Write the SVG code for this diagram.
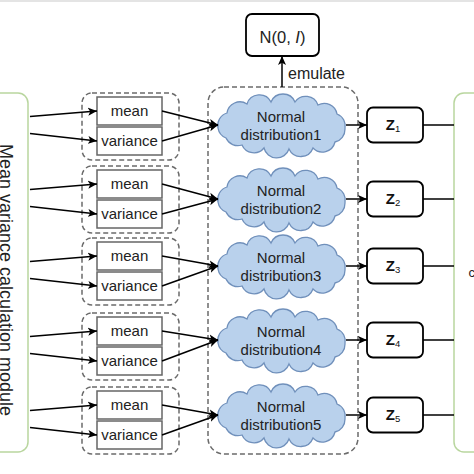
<svg xmlns="http://www.w3.org/2000/svg" width="474" height="474" viewBox="0 0 474 474">
<defs>
<marker id="ah" markerUnits="userSpaceOnUse" markerWidth="10" markerHeight="9" refX="9" refY="4.5" orient="auto">
<path d="M0,0.5 L9,4.5 L0,8.5 L2.2,4.5 Z" fill="#000"/>
</marker>
<path id="cloud" d="M -64 3 A 13 13 0 0 1 -55 -12 A 13 13 0 0 1 -35 -21 A 13 13 0 0 1 -11 -23 A 13 13 0 0 1 13 -23 A 13 13 0 0 1 36 -20 A 13 13 0 0 1 55 -11 A 13 13 0 0 1 63 4 A 13 13 0 0 1 53 17 A 13 13 0 0 1 31 23 A 13 13 0 0 1 7 24 A 13 13 0 0 1 -18 23 A 13 13 0 0 1 -40 20 A 13 13 0 0 1 -56 13 A 13 13 0 0 1 -64 3 Z"/>
</defs>
<style>
.t{font-family:"Liberation Sans",Arial,sans-serif;fill:#222}
.box{fill:#fff;stroke:#666;stroke-width:1.5}
.grp{fill:none;stroke:#6b6b6b;stroke-width:1.5;stroke-dasharray:5 3}
.green{fill:#fff;stroke:#b9d69f;stroke-width:1.5}
.zb{fill:#fff;stroke:#000;stroke-width:1.8}
.cl{fill:#b9d1ec;stroke:#7090bb;stroke-width:1.3}
#connectors line{stroke:#000;stroke-width:1.5}
.a{marker-end:url(#ah)}
.z{font-size:15px;font-weight:bold;fill:#111}
.zs{font-size:9.5px;font-weight:normal}
</style>
<rect x="0" y="0" width="474" height="474" fill="#fff"/>
<rect x="0" y="0" width="474" height="2" fill="#e4e4e4"/>

<g id="left-module">
<rect class="green" x="-20" y="93" width="48" height="359" rx="10"/>
<text class="t" font-size="18" text-anchor="middle" transform="translate(0,280) rotate(90)">Mean variance calculation module</text>
</g>
<g id="right-module">
<rect class="green" x="454" y="93" width="60" height="359" rx="10"/>
<text class="t" font-size="13" x="468.5" y="277">c</text>
</g>

<g id="n01">
<rect class="zb" x="246" y="14" width="73" height="42" rx="6"/>
<text class="t" font-size="16.5" x="282.5" y="43" text-anchor="middle">N(0,  <tspan font-style="italic">I</tspan>)</text>
</g>
<g id="emulate-label">
<text class="t" font-size="16" x="288" y="79">emulate</text>
</g>

<g id="dist-container">
<rect class="grp" x="208" y="87" width="150" height="367" rx="16"/>
</g>

<g id="group1">
<rect class="grp" x="82" y="93" width="97" height="67" rx="10"/>
<rect class="box" x="97" y="97" width="65" height="28"/>
<text class="t" font-size="15" x="129.5" y="116" text-anchor="middle">mean</text>
<rect class="box" x="97" y="127" width="65" height="28"/>
<text class="t" font-size="15" x="129.5" y="146" text-anchor="middle">variance</text>
</g>
<g id="group2">
<rect class="grp" x="82" y="166" width="97" height="67" rx="10"/>
<rect class="box" x="97" y="170" width="65" height="28"/>
<text class="t" font-size="15" x="129.5" y="189" text-anchor="middle">mean</text>
<rect class="box" x="97" y="200" width="65" height="28"/>
<text class="t" font-size="15" x="129.5" y="219" text-anchor="middle">variance</text>
</g>
<g id="group3">
<rect class="grp" x="82" y="238" width="97" height="67" rx="10"/>
<rect class="box" x="97" y="242" width="65" height="28"/>
<text class="t" font-size="15" x="129.5" y="261" text-anchor="middle">mean</text>
<rect class="box" x="97" y="272" width="65" height="28"/>
<text class="t" font-size="15" x="129.5" y="291" text-anchor="middle">variance</text>
</g>
<g id="group4">
<rect class="grp" x="82" y="313" width="97" height="67" rx="10"/>
<rect class="box" x="97" y="317" width="65" height="28"/>
<text class="t" font-size="15" x="129.5" y="336" text-anchor="middle">mean</text>
<rect class="box" x="97" y="347" width="65" height="28"/>
<text class="t" font-size="15" x="129.5" y="366" text-anchor="middle">variance</text>
</g>
<g id="group5">
<rect class="grp" x="82" y="387" width="97" height="67" rx="10"/>
<rect class="box" x="97" y="391" width="65" height="28"/>
<text class="t" font-size="15" x="129.5" y="410" text-anchor="middle">mean</text>
<rect class="box" x="97" y="421" width="65" height="28"/>
<text class="t" font-size="15" x="129.5" y="440" text-anchor="middle">variance</text>
</g>

<g id="cloud1">
<use href="#cloud" class="cl" transform="translate(282,125)"/>
<text class="t" font-size="15" text-anchor="middle" x="281" y="122">Normal</text>
<text class="t" font-size="15" text-anchor="middle" x="281" y="140">distribution1</text>
</g>
<g id="cloud2">
<use href="#cloud" class="cl" transform="translate(282,199)"/>
<text class="t" font-size="15" text-anchor="middle" x="281" y="196">Normal</text>
<text class="t" font-size="15" text-anchor="middle" x="281" y="214">distribution2</text>
</g>
<g id="cloud3">
<use href="#cloud" class="cl" transform="translate(282,266)"/>
<text class="t" font-size="15" text-anchor="middle" x="281" y="263">Normal</text>
<text class="t" font-size="15" text-anchor="middle" x="281" y="281">distribution3</text>
</g>
<g id="cloud4">
<use href="#cloud" class="cl" transform="translate(282,340)"/>
<text class="t" font-size="15" text-anchor="middle" x="281" y="337">Normal</text>
<text class="t" font-size="15" text-anchor="middle" x="281" y="355">distribution4</text>
</g>
<g id="cloud5">
<use href="#cloud" class="cl" transform="translate(282,415)"/>
<text class="t" font-size="15" text-anchor="middle" x="281" y="412">Normal</text>
<text class="t" font-size="15" text-anchor="middle" x="281" y="430">distribution5</text>
</g>

<g id="z1"><rect class="zb" x="367" y="107.5" width="56" height="35" rx="6"/>
<text class="t z" x="393" y="130" text-anchor="middle">Z<tspan class="zs" dy="2">1</tspan></text></g>
<g id="z2"><rect class="zb" x="367" y="181.5" width="56" height="35" rx="6"/>
<text class="t z" x="393" y="204" text-anchor="middle">Z<tspan class="zs" dy="2">2</tspan></text></g>
<g id="z3"><rect class="zb" x="367" y="248.5" width="56" height="35" rx="6"/>
<text class="t z" x="393" y="271" text-anchor="middle">Z<tspan class="zs" dy="2">3</tspan></text></g>
<g id="z4"><rect class="zb" x="367" y="322.5" width="56" height="35" rx="6"/>
<text class="t z" x="393" y="345" text-anchor="middle">Z<tspan class="zs" dy="2">4</tspan></text></g>
<g id="z5"><rect class="zb" x="367" y="397.5" width="56" height="35" rx="6"/>
<text class="t z" x="393" y="420" text-anchor="middle">Z<tspan class="zs" dy="2">5</tspan></text></g>

<g id="connectors">
<line class="a" x1="282" y1="87" x2="282" y2="56"/>
<line class="a" x1="30" y1="116.5" x2="97" y2="111"/>
<line class="a" x1="30" y1="133.5" x2="97" y2="141"/>
<line class="a" x1="162" y1="111" x2="218" y2="125"/>
<line class="a" x1="162" y1="141" x2="218" y2="125"/>
<line class="a" x1="30" y1="189.5" x2="97" y2="184"/>
<line class="a" x1="30" y1="206.5" x2="97" y2="214"/>
<line class="a" x1="162" y1="184" x2="218" y2="199"/>
<line class="a" x1="162" y1="214" x2="218" y2="199"/>
<line class="a" x1="30" y1="261.5" x2="97" y2="256"/>
<line class="a" x1="30" y1="278.5" x2="97" y2="286"/>
<line class="a" x1="162" y1="256" x2="218" y2="266"/>
<line class="a" x1="162" y1="286" x2="218" y2="266"/>
<line class="a" x1="30" y1="336.5" x2="97" y2="331"/>
<line class="a" x1="30" y1="353.5" x2="97" y2="361"/>
<line class="a" x1="162" y1="331" x2="218" y2="340"/>
<line class="a" x1="162" y1="361" x2="218" y2="340"/>
<line class="a" x1="30" y1="410.5" x2="97" y2="405"/>
<line class="a" x1="30" y1="427.5" x2="97" y2="435"/>
<line class="a" x1="162" y1="405" x2="218" y2="415"/>
<line class="a" x1="162" y1="435" x2="218" y2="415"/>
<line class="a" x1="346" y1="125" x2="367" y2="125"/>
<line class="a" x1="346" y1="199" x2="367" y2="199"/>
<line class="a" x1="346" y1="266" x2="367" y2="266"/>
<line class="a" x1="346" y1="340" x2="367" y2="340"/>
<line class="a" x1="346" y1="415" x2="367" y2="415"/>
<line x1="423" y1="125" x2="454" y2="125"/>
<line x1="423" y1="199" x2="454" y2="199"/>
<line x1="423" y1="266" x2="454" y2="266"/>
<line x1="423" y1="340" x2="454" y2="340"/>
<line x1="423" y1="415" x2="454" y2="415"/>
</g>
</svg>
